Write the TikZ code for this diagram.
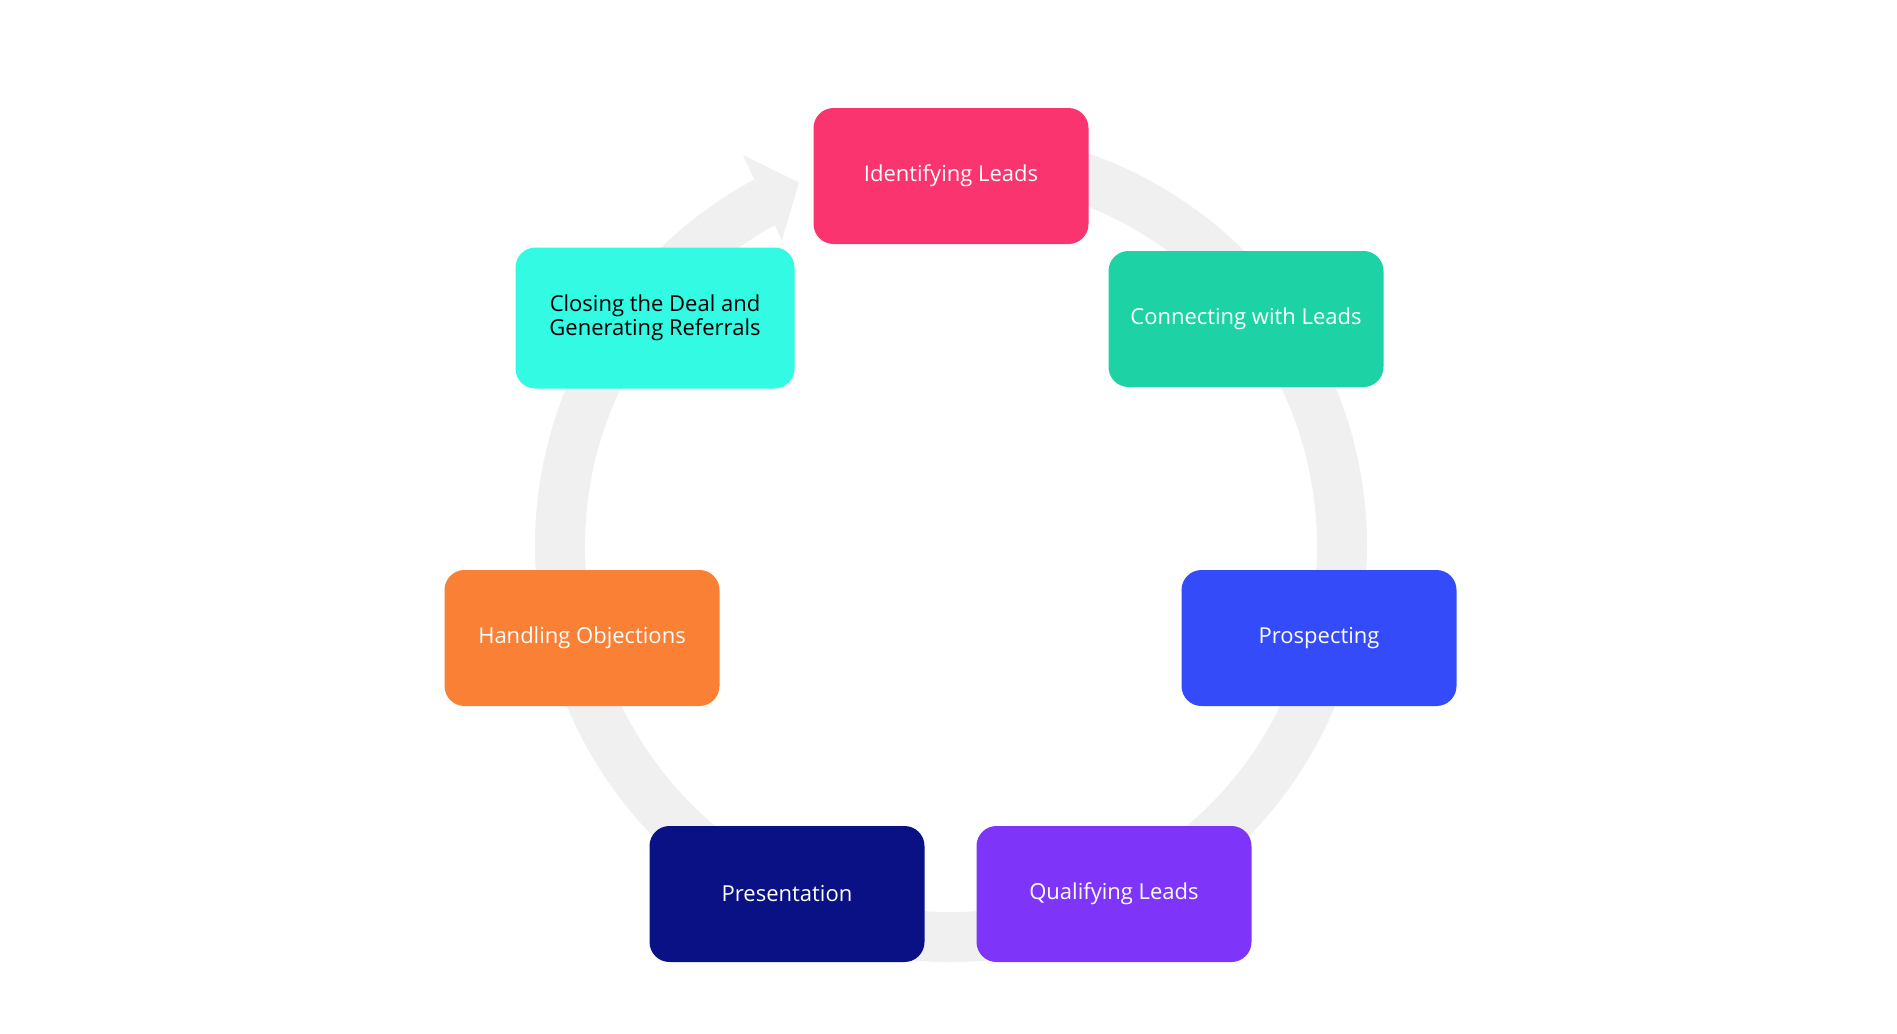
\documentclass[tikz,border=0pt]{standalone}
\usepackage{fontspec}
\setmainfont{Open Sans}
\usetikzlibrary{calc}
\begin{document}
\begin{tikzpicture}[x=1pt,y=-1pt,
  box/.style={rounded corners=20pt, minimum width=275pt, minimum height=136pt, inner sep=0pt, align=center, text=white, font=\fontsize{22}{22}\selectfont},
  ring/.style={draw=ringc, line width=50pt}]
\definecolor{ringc}{HTML}{F0F0F0}
\definecolor{cpink}{HTML}{FA346E}
\definecolor{cgreen}{HTML}{1DD3A6}
\definecolor{cblue}{HTML}{344BFA}
\definecolor{cpurple}{HTML}{7F34FA}
\definecolor{cnavy}{HTML}{0A1185}
\definecolor{corange}{HTML}{F98035}
\definecolor{ccyan}{HTML}{33FAE2}
\useasboundingbox (0,0) rectangle (1897,1033);
\coordinate (c) at (951,546);
\draw[ring] ($(c)+(-100:391)$) arc[start angle=-100, end angle=242, radius=391];
\fill[ringc] ($(c)+(-118:443)$) -- ($(c)+(-112.7:394)$) -- ($(c)+(-119:349)$) -- cycle;
\node[box, fill=cpink] (a) at (951,176) {Identifying Leads};
\node[box, fill=cgreen] (b) at (1246,319) {Connecting with Leads};
\node[box, fill=cblue] (d) at (1319,638) {Prospecting};
\node[box, fill=cpurple] (e) at (1114,894) {Qualifying Leads};
\node[box, fill=cnavy] (f) at (787,894) {Presentation};
\node[box, fill=corange] (g) at (582,638) {Handling Objections};
\node[box, fill=ccyan, text=black, minimum width=279pt, minimum height=141pt, font=\fontsize{22}{24}\selectfont] (h) at (655,318) {Closing the Deal and\\Generating Referrals};
\end{tikzpicture}
\end{document}
